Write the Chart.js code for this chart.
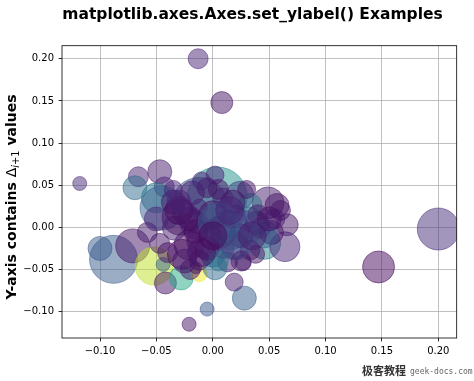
<!DOCTYPE html>
<html>
<head>
<meta charset="utf-8">
<script src="https://cdn.jsdelivr.net/npm/chart.js@4"></script>
<style>
html,body{margin:0;padding:0;background:#fff;}
#wrap{width:474px;height:381px;position:relative;}
</style>
</head>
<body>
<div id="wrap"><canvas id="c" width="474" height="381"></canvas></div>
<script>
// ---- data ----
const titleText = "matplotlib.axes.Axes.set_ylabel() Examples";
const xTicks = [-0.10, -0.05, 0.00, 0.05, 0.10, 0.15, 0.20];
const yTicks = [-0.10, -0.05, 0.00, 0.05, 0.10, 0.15, 0.20];
const xRange = [-0.1337, 0.2163];
const yRange = [-0.1313, 0.2155];

// delta_i (x), delta_{i+1} (y)
const deltaToday = [
 -0.013, 0.008, -0.118, 0.147, 0.200, -0.021, -0.005, 0.028, 0.019, -0.088,
 -0.100, -0.071, -0.052, -0.044, -0.042, -0.028, -0.012, -0.015, -0.066, -0.047,
 -0.069, -0.043, -0.050, -0.045, 0.004, -0.012, 0.015, 0.031, 0.046, -0.029,
 -0.058, -0.027, 0.002, -0.018, 0.009, 0.013, -0.012, 0.049, 0.057, 0.066,
 0.064, 0.039, -0.007, -0.021, 0.027, 0.013, 0.000, -0.012, 0.024, 0.033,
 0.019, 0.033, 0.006, -0.016, -0.034, -0.005, 0.042, 0.052, 0.002, -0.047,
 -0.030, -0.020, 0.000, 0.010, 0.020, 0.025, 0.040, 0.045, -0.005, 0.010,
 -0.025, -0.035, 0.055, 0.030, -0.010, -0.040, 0.005, -0.035, 0.038, 0.018,
 -0.050, 0.060, -0.015, 0.028, 0.005, 0.005, 0.020,
 0.035, -0.010, 0.015, -0.030, 0.050, -0.020, 0.000, 0.025
];
const deltaNext = [
 0.200, 0.148, 0.052, -0.047, -0.002, -0.115, -0.097, -0.084, -0.065, -0.038,
 -0.025, -0.022, -0.046, -0.044, -0.066, -0.060, -0.055, -0.048, 0.060, 0.066,
 0.047, 0.048, 0.035, 0.023, 0.036, 0.026, -0.003, 0.003, -0.019, 0.012,
 -0.006, -0.032, 0.062, 0.041, 0.035, 0.011, 0.024, 0.029, 0.026, 0.003,
 -0.023, 0.005, -0.015, -0.021, -0.042, -0.041, -0.033, -0.039, 0.038, 0.026,
 -0.021, -0.027, -0.006, 0.003, -0.001, 0.047, -0.001, -0.006, -0.048, -0.019,
 0.020, 0.010, 0.015, 0.000, 0.015, -0.010, 0.015, -0.008, -0.025, -0.025,
 -0.040, 0.030, 0.010, 0.045, 0.055, -0.030, 0.045, 0.045, -0.032, 0.030,
 0.010, 0.020, -0.005, 0.008, -0.040, 0.005, -0.020,
 -0.010, -0.030, 0.020, 0.030, 0.010, -0.050, -0.010, -0.040
];
// marker size (volume based, points^2 like)
const volumeSize = [
 400, 484, 196, 1024, 1764, 196, 196, 576, 324, 2304,
 576, 1156, 1444, 196, 484, 576, 256, 144, 400, 576,
 576, 400, 900, 1936, 3600, 3136, 1600, 1296, 1024, 1296,
 400, 900, 324, 576, 400, 256, 256, 1024, 576, 484,
 900, 576, 1296, 900, 256, 400, 576, 400, 784, 576,
 784, 400, 1024, 784, 576, 400, 400, 576, 576, 400,
 784, 576, 784, 576, 400, 576, 400, 784, 576, 400,
 576, 576, 400, 324, 324, 400, 400, 324, 324, 576,
 576, 400, 576, 400, 400, 1600, 1024,
 784, 784, 784, 576, 576, 400, 784, 400
];
// colour value (normalised close price) for viridis
const closeLevel = [
 0.10, 0.05, 0.12, 0.02, 0.13, 0.06, 0.27, 0.30, 0.08, 0.28,
 0.28, 0.05, 0.90, 0.30, 0.05, 0.60, 0.98, 0.05, 0.10, 0.08,
 0.35, 0.10, 0.40, 0.30, 0.50, 0.25, 0.30, 0.35, 0.45, 0.00,
 0.08, 0.00, 0.10, 0.08, 0.12, 0.05, 0.10, 0.08, 0.05, 0.05,
 0.10, 0.05, 0.05, 0.03, 0.05, 0.05, 0.30, 0.05, 0.20, 0.40,
 0.10, 0.05, 0.05, 0.10, 0.08, 0.05, 0.10, 0.05, 0.35, 0.05,
 0.02, 0.05, 0.05, 0.10, 0.15, 0.05, 0.08, 0.30, 0.05, 0.10,
 0.08, 0.05, 0.10, 0.05, 0.10, 0.05, 0.05, 0.10, 0.05, 0.05,
 0.10, 0.05, 0.03, 0.20, 0.40, 0.28, 0.30,
 0.08, 0.05, 0.10, 0.10, 0.05, 0.05, 0.02, 0.08
];

// ---- viridis colormap ----
const viridis = [[68,1,84],[72,36,117],[65,68,135],[53,95,141],[42,120,142],[33,145,140],[34,168,132],[68,191,112],[122,209,81],[189,223,38],[253,231,37]];
function cmap(v, a){
  v = Math.max(0, Math.min(1, v));
  const p = v*(viridis.length-1), i = Math.min(Math.floor(p), viridis.length-2), f = p - i;
  const c = viridis[i].map((q,k)=>Math.round(q + (viridis[i+1][k]-q)*f));
  return `rgba(${c[0]},${c[1]},${c[2]},${a})`;
}

const points = deltaToday.map((x,i)=>({x:x, y:deltaNext[i], r:Math.sqrt(volumeSize[i])/2}));
const colors = closeLevel.map(v=>cmap(v,0.5));

const fmt = v => {const s = Math.abs(v).toFixed(2); return (v < -1e-9 ? '\u2212' : '') + s;};

const decor = {
  id:'decor',
  afterDraw(chart){
    const ctx = chart.ctx, a = chart.chartArea;
    ctx.save();
    // frame
    ctx.strokeStyle = '#000'; ctx.lineWidth = 0.8;
    ctx.strokeRect(a.left, a.top, a.right-a.left, a.bottom-a.top);
    // title
    ctx.fillStyle = '#000';
    ctx.font = 'bold 15.5px "DejaVu Sans"';
    ctx.textAlign = 'center'; ctx.textBaseline = 'alphabetic';
    ctx.fillText(titleText, 252.5, 19);
    // y label with subscript
    const segs = [
      {t:'Y-axis contains ', f:'bold 14px "DejaVu Sans"', dy:0},
      {t:'\u0394', f:'14px "DejaVu Sans"', dy:0},
      {t:'i', f:'oblique 9.8px "DejaVu Sans"', dy:3},
      {t:'+1', f:'9.8px "DejaVu Sans"', dy:3},
      {t:' values', f:'bold 14px "DejaVu Sans"', dy:0}
    ];
    let total = 0;
    segs.forEach(s=>{ctx.font = s.f; s.w = ctx.measureText(s.t).width; total += s.w;});
    ctx.translate(16, 197);
    ctx.rotate(-Math.PI/2);
    ctx.textAlign = 'left';
    let px = -total/2;
    segs.forEach(s=>{ctx.font = s.f; ctx.fillText(s.t, px, s.dy); px += s.w;});
    ctx.restore();
    // watermark
    ctx.save();
    ctx.textBaseline = 'middle'; ctx.textAlign = 'left';
    ctx.fillStyle = '#333';
    ctx.font = 'bold 11px "Noto Sans CJK SC"';
    ctx.fillText('极客教程', 362, 371);
    ctx.fillStyle = '#666';
    ctx.font = '8px "DejaVu Sans Mono"';
    ctx.fillText('geek-docs.com', 410, 372);
    ctx.restore();
  }
};

new Chart(document.getElementById('c'), {
  type:'bubble',
  data:{datasets:[{data:points, backgroundColor:colors, borderColor:colors, borderWidth:1, hoverRadius:0}]},
  options:{
    responsive:false, animation:false, devicePixelRatio:1,
    layout:{autoPadding:false, padding:{left:0, top:45.7, right:17.3, bottom:0}},
    plugins:{legend:{display:false}, tooltip:{enabled:false}, title:{display:false}},
    scales:{
      x:{type:'linear', min:xRange[0], max:xRange[1], z:1,
         afterBuildTicks(s){ s.ticks = xTicks.map(v=>({value:v})); },
         afterFit(s){ s.height = 43; },
         grid:{color:'#b0b0b0', lineWidth:0.8, drawTicks:true, tickLength:3.5, tickColor:'#000', tickWidth:0.8},
         border:{display:false},
         ticks:{callback:v=>fmt(v), color:'#000', padding:4, maxRotation:0, autoSkip:false, font:{family:'"DejaVu Sans"', size:10}}},
      y:{type:'linear', min:yRange[0], max:yRange[1], z:1,
         afterBuildTicks(s){ s.ticks = yTicks.map(v=>({value:v})); },
         afterFit(s){ s.width = 62; },
         grid:{color:'#b0b0b0', lineWidth:0.8, drawTicks:true, tickLength:3.5, tickColor:'#000', tickWidth:0.8},
         border:{display:false},
         ticks:{callback:v=>fmt(v), color:'#000', padding:4.5, autoSkip:false, font:{family:'"DejaVu Sans"', size:10}}}
    }
  },
  plugins:[decor]
});
</script>
</body>
</html>
